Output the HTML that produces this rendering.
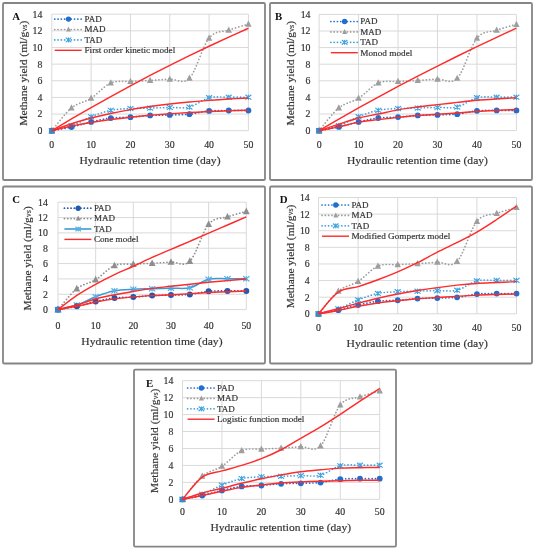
<!DOCTYPE html>
<html><head><meta charset="utf-8"><style>
html,body{margin:0;padding:0;background:#fff;}
svg{display:block;filter:blur(0.35px);}
text{font-family:"Liberation Serif",serif;fill:#333333;stroke:#333;stroke-width:0.18px;}
.tk{font-size:9.8px;}
.ttl{font-size:11.4px;}
.sub{font-size:5.6px;}
.lg{font-size:9.0px;}
.let{font-size:10.8px;font-weight:bold;fill:#111;stroke:none;}
</style></head><body>
<svg width="535" height="550" viewBox="0 0 535 550">
<rect width="535" height="550" fill="#fff"/>
<rect x="3.0" y="3.0" width="262" height="177" rx="1.3" fill="#fff" stroke="#858585" stroke-width="1.8"/>
<line x1="51.80" y1="130.70" x2="248.40" y2="130.70" stroke="#d9d9d9" stroke-width="1"/>
<line x1="51.80" y1="114.06" x2="248.40" y2="114.06" stroke="#d9d9d9" stroke-width="1"/>
<line x1="51.80" y1="97.41" x2="248.40" y2="97.41" stroke="#d9d9d9" stroke-width="1"/>
<line x1="51.80" y1="80.77" x2="248.40" y2="80.77" stroke="#d9d9d9" stroke-width="1"/>
<line x1="51.80" y1="64.13" x2="248.40" y2="64.13" stroke="#d9d9d9" stroke-width="1"/>
<line x1="51.80" y1="47.49" x2="248.40" y2="47.49" stroke="#d9d9d9" stroke-width="1"/>
<line x1="51.80" y1="30.84" x2="248.40" y2="30.84" stroke="#d9d9d9" stroke-width="1"/>
<line x1="51.80" y1="14.20" x2="248.40" y2="14.20" stroke="#d9d9d9" stroke-width="1"/>
<line x1="51.80" y1="14.20" x2="51.80" y2="130.70" stroke="#d9d9d9" stroke-width="1"/>
<line x1="91.12" y1="14.20" x2="91.12" y2="130.70" stroke="#d9d9d9" stroke-width="1"/>
<line x1="130.44" y1="14.20" x2="130.44" y2="130.70" stroke="#d9d9d9" stroke-width="1"/>
<line x1="169.76" y1="14.20" x2="169.76" y2="130.70" stroke="#d9d9d9" stroke-width="1"/>
<line x1="209.08" y1="14.20" x2="209.08" y2="130.70" stroke="#d9d9d9" stroke-width="1"/>
<line x1="248.40" y1="14.20" x2="248.40" y2="130.70" stroke="#d9d9d9" stroke-width="1"/>
<text x="42.30" y="134.10" class="tk" text-anchor="end">0</text>
<text x="42.30" y="117.46" class="tk" text-anchor="end">2</text>
<text x="42.30" y="100.81" class="tk" text-anchor="end">4</text>
<text x="42.30" y="84.17" class="tk" text-anchor="end">6</text>
<text x="42.30" y="67.53" class="tk" text-anchor="end">8</text>
<text x="42.30" y="50.89" class="tk" text-anchor="end">10</text>
<text x="42.30" y="34.24" class="tk" text-anchor="end">12</text>
<text x="42.30" y="17.60" class="tk" text-anchor="end">14</text>
<text x="51.80" y="147.70" class="tk" text-anchor="middle">0</text>
<text x="91.12" y="147.70" class="tk" text-anchor="middle">10</text>
<text x="130.44" y="147.70" class="tk" text-anchor="middle">20</text>
<text x="169.76" y="147.70" class="tk" text-anchor="middle">30</text>
<text x="209.08" y="147.70" class="tk" text-anchor="middle">40</text>
<text x="248.40" y="147.70" class="tk" text-anchor="middle">50</text>
<text x="79.50" y="164.40" class="ttl" textLength="141.0" lengthAdjust="spacingAndGlyphs">Hydraulic retention time (day)</text>
<text transform="translate(27.10,125.70) rotate(-90)" class="ttl" textLength="105.0" lengthAdjust="spacingAndGlyphs">Methane yield (ml/g<tspan class="sub" dy="-0.5">VS</tspan><tspan dy="0.5">)</tspan></text>
<text x="12.30" y="19.70" class="let">A</text>
<line x1="54.70" y1="19.10" x2="81.70" y2="19.10" stroke="#1f6fd0" stroke-width="1.7" stroke-linecap="round" stroke-dasharray="0.1 3.2"/>
<circle cx="68.50" cy="19.10" r="2.70" fill="#1f6fd0"/>
<text x="84.50" y="21.90" class="lg">PAD</text>
<line x1="54.70" y1="29.50" x2="81.70" y2="29.50" stroke="#9e9e9e" stroke-width="1.7" stroke-linecap="round" stroke-dasharray="0.1 3.2"/>
<path d="M68.50,26.62 L71.00,31.50 L66.00,31.50 Z" fill="#9e9e9e"/>
<text x="84.50" y="32.30" class="lg">MAD</text>
<line x1="54.70" y1="39.90" x2="81.70" y2="39.90" stroke="#3fa3e0" stroke-width="1.7" stroke-linecap="round" stroke-dasharray="0.1 3.2"/>
<path d="M66.08,37.91 L70.92,41.90 M66.08,41.90 L70.92,37.91 M68.50,37.91 L68.50,41.90" stroke="#3fa3e0" stroke-width="1.15" fill="none" stroke-linecap="round"/>
<text x="84.50" y="42.70" class="lg">TAD</text>
<line x1="54.70" y1="50.30" x2="81.70" y2="50.30" stroke="#ff2a2a" stroke-width="1.4"/>
<text x="84.50" y="53.10" class="lg" textLength="90.7" lengthAdjust="spacingAndGlyphs">First order kinetic model</text>
<path d="M51.80,130.70 C55.08,126.91 64.91,113.39 71.46,107.98 C78.01,102.57 84.57,102.42 91.12,98.25 C97.67,94.07 104.23,85.74 110.78,82.94 C117.33,80.13 123.89,81.84 130.44,81.44 C136.99,81.03 143.55,80.91 150.10,80.52 C156.65,80.13 163.21,79.48 169.76,79.11 C176.31,78.73 182.87,85.11 189.42,78.27 C195.97,71.44 202.53,46.11 209.08,38.08 C215.63,30.05 222.19,32.41 228.74,30.09 C235.29,27.78 245.12,25.17 248.40,24.19" fill="none" stroke="#9e9e9e" stroke-width="1.7" stroke-linecap="round" stroke-dasharray="0.1 3.2"/>
<path d="M51.80,127.02 L55.00,133.26 L48.60,133.26 Z" fill="#9e9e9e"/>
<path d="M71.46,104.30 L74.66,110.54 L68.26,110.54 Z" fill="#9e9e9e"/>
<path d="M91.12,94.57 L94.32,100.81 L87.92,100.81 Z" fill="#9e9e9e"/>
<path d="M110.78,79.25 L113.98,85.50 L107.58,85.50 Z" fill="#9e9e9e"/>
<path d="M130.44,77.76 L133.64,84.00 L127.24,84.00 Z" fill="#9e9e9e"/>
<path d="M150.10,76.84 L153.30,83.08 L146.90,83.08 Z" fill="#9e9e9e"/>
<path d="M169.76,75.43 L172.96,81.67 L166.56,81.67 Z" fill="#9e9e9e"/>
<path d="M189.42,74.59 L192.62,80.83 L186.22,80.83 Z" fill="#9e9e9e"/>
<path d="M209.08,34.40 L212.28,40.64 L205.88,40.64 Z" fill="#9e9e9e"/>
<path d="M228.74,26.41 L231.94,32.65 L225.54,32.65 Z" fill="#9e9e9e"/>
<path d="M248.40,20.51 L251.60,26.75 L245.20,26.75 Z" fill="#9e9e9e"/>
<path d="M51.80,130.70 C55.08,129.87 64.91,128.02 71.46,125.71 C78.01,123.39 84.57,119.37 91.12,116.80 C97.67,114.24 104.23,111.69 110.78,110.31 C117.33,108.94 123.89,108.94 130.44,108.56 C136.99,108.19 143.55,108.25 150.10,108.07 C156.65,107.89 163.21,107.65 169.76,107.48 C176.31,107.32 182.87,108.69 189.42,107.07 C195.97,105.44 202.53,99.38 209.08,97.75 C215.63,96.11 222.19,97.33 228.74,97.25 C235.29,97.16 245.12,97.25 248.40,97.25" fill="none" stroke="#3fa3e0" stroke-width="1.7" stroke-linecap="round" stroke-dasharray="0.1 3.2"/>
<path d="M49.16,128.51 L54.44,132.88 M49.16,132.88 L54.44,128.51 M51.80,128.51 L51.80,132.88" stroke="#3fa3e0" stroke-width="1.15" fill="none" stroke-linecap="round"/>
<path d="M68.82,123.52 L74.11,127.89 M68.82,127.89 L74.11,123.52 M71.46,123.52 L71.46,127.89" stroke="#3fa3e0" stroke-width="1.15" fill="none" stroke-linecap="round"/>
<path d="M88.48,114.62 L93.77,118.99 M88.48,118.99 L93.77,114.62 M91.12,114.62 L91.12,118.99" stroke="#3fa3e0" stroke-width="1.15" fill="none" stroke-linecap="round"/>
<path d="M108.14,108.13 L113.42,112.50 M108.14,112.50 L113.42,108.13 M110.78,108.13 L110.78,112.50" stroke="#3fa3e0" stroke-width="1.15" fill="none" stroke-linecap="round"/>
<path d="M127.80,106.38 L133.09,110.75 M127.80,110.75 L133.09,106.38 M130.44,106.38 L130.44,110.75" stroke="#3fa3e0" stroke-width="1.15" fill="none" stroke-linecap="round"/>
<path d="M147.46,105.88 L152.75,110.25 M147.46,110.25 L152.75,105.88 M150.10,105.88 L150.10,110.25" stroke="#3fa3e0" stroke-width="1.15" fill="none" stroke-linecap="round"/>
<path d="M167.12,105.30 L172.41,109.67 M167.12,109.67 L172.41,105.30 M169.76,105.30 L169.76,109.67" stroke="#3fa3e0" stroke-width="1.15" fill="none" stroke-linecap="round"/>
<path d="M186.78,104.88 L192.07,109.25 M186.78,109.25 L192.07,104.88 M189.42,104.88 L189.42,109.25" stroke="#3fa3e0" stroke-width="1.15" fill="none" stroke-linecap="round"/>
<path d="M206.44,95.56 L211.73,99.93 M206.44,99.93 L211.73,95.56 M209.08,95.56 L209.08,99.93" stroke="#3fa3e0" stroke-width="1.15" fill="none" stroke-linecap="round"/>
<path d="M226.09,95.06 L231.39,99.43 M226.09,99.43 L231.39,95.06 M228.74,95.06 L228.74,99.43" stroke="#3fa3e0" stroke-width="1.15" fill="none" stroke-linecap="round"/>
<path d="M245.76,95.06 L251.05,99.43 M245.76,99.43 L251.05,95.06 M248.40,95.06 L248.40,99.43" stroke="#3fa3e0" stroke-width="1.15" fill="none" stroke-linecap="round"/>
<path d="M51.80,130.70 C55.08,130.09 64.91,128.49 71.46,127.04 C78.01,125.58 84.57,123.46 91.12,121.96 C97.67,120.46 104.23,118.86 110.78,118.05 C117.33,117.25 123.89,117.57 130.44,117.14 C136.99,116.71 143.55,115.83 150.10,115.47 C156.65,115.11 163.21,115.18 169.76,114.97 C176.31,114.76 182.87,114.90 189.42,114.22 C195.97,113.54 202.53,111.52 209.08,110.89 C215.63,110.27 222.19,110.55 228.74,110.48 C235.29,110.41 245.12,110.48 248.40,110.48" fill="none" stroke="#1f6fd0" stroke-width="1.7" stroke-linecap="round" stroke-dasharray="0.1 3.2"/>
<circle cx="51.80" cy="130.70" r="2.90" fill="#1f6fd0"/>
<circle cx="71.46" cy="127.04" r="2.90" fill="#1f6fd0"/>
<circle cx="91.12" cy="121.96" r="2.90" fill="#1f6fd0"/>
<circle cx="110.78" cy="118.05" r="2.90" fill="#1f6fd0"/>
<circle cx="130.44" cy="117.14" r="2.90" fill="#1f6fd0"/>
<circle cx="150.10" cy="115.47" r="2.90" fill="#1f6fd0"/>
<circle cx="169.76" cy="114.97" r="2.90" fill="#1f6fd0"/>
<circle cx="189.42" cy="114.22" r="2.90" fill="#1f6fd0"/>
<circle cx="209.08" cy="110.89" r="2.90" fill="#1f6fd0"/>
<circle cx="228.74" cy="110.48" r="2.90" fill="#1f6fd0"/>
<circle cx="248.40" cy="110.48" r="2.90" fill="#1f6fd0"/>
<rect x="49.00" y="128.30" width="5.6" height="5.4" fill="#3d88c8"/>
<path d="M51.80,130.70 C55.08,128.74 64.91,122.80 71.46,118.94 C78.01,115.08 84.57,111.29 91.12,107.55 C97.67,103.81 104.23,100.13 110.78,96.51 C117.33,92.88 123.89,89.32 130.44,85.81 C136.99,82.30 143.55,78.85 150.10,75.44 C156.65,72.04 163.21,68.70 169.76,65.40 C176.31,62.11 182.87,58.86 189.42,55.67 C195.97,52.48 202.53,49.34 209.08,46.24 C215.63,43.15 222.19,40.10 228.74,37.11 C235.29,34.11 245.12,29.73 248.40,28.25" fill="none" stroke="#ff2a2a" stroke-width="1.45"/>
<path d="M51.80,130.70 C55.08,129.54 64.91,125.84 71.46,123.73 C78.01,121.62 84.57,119.77 91.12,118.05 C97.67,116.33 104.23,114.82 110.78,113.42 C117.33,112.02 123.89,110.79 130.44,109.65 C136.99,108.51 143.55,107.51 150.10,106.58 C156.65,105.65 163.21,104.84 169.76,104.08 C176.31,103.32 182.87,102.66 189.42,102.04 C195.97,101.43 202.53,100.89 209.08,100.38 C215.63,99.88 222.19,99.44 228.74,99.03 C235.29,98.62 245.12,98.11 248.40,97.93" fill="none" stroke="#ff2a2a" stroke-width="1.45"/>
<path d="M51.80,130.70 C55.08,129.94 64.91,127.52 71.46,126.16 C78.01,124.79 84.57,123.61 91.12,122.51 C97.67,121.41 104.23,120.46 110.78,119.58 C117.33,118.70 123.89,117.93 130.44,117.22 C136.99,116.51 143.55,115.89 150.10,115.32 C156.65,114.76 163.21,114.26 169.76,113.80 C176.31,113.34 182.87,112.95 189.42,112.58 C195.97,112.21 202.53,111.89 209.08,111.59 C215.63,111.30 222.19,111.04 228.74,110.80 C235.29,110.57 245.12,110.27 248.40,110.17" fill="none" stroke="#ff2a2a" stroke-width="1.45"/>
<rect x="270.0" y="3.0" width="262" height="177" rx="1.3" fill="#fff" stroke="#858585" stroke-width="1.8"/>
<line x1="319.10" y1="130.60" x2="516.40" y2="130.60" stroke="#d9d9d9" stroke-width="1"/>
<line x1="319.10" y1="114.00" x2="516.40" y2="114.00" stroke="#d9d9d9" stroke-width="1"/>
<line x1="319.10" y1="97.40" x2="516.40" y2="97.40" stroke="#d9d9d9" stroke-width="1"/>
<line x1="319.10" y1="80.80" x2="516.40" y2="80.80" stroke="#d9d9d9" stroke-width="1"/>
<line x1="319.10" y1="64.20" x2="516.40" y2="64.20" stroke="#d9d9d9" stroke-width="1"/>
<line x1="319.10" y1="47.60" x2="516.40" y2="47.60" stroke="#d9d9d9" stroke-width="1"/>
<line x1="319.10" y1="31.00" x2="516.40" y2="31.00" stroke="#d9d9d9" stroke-width="1"/>
<line x1="319.10" y1="14.40" x2="516.40" y2="14.40" stroke="#d9d9d9" stroke-width="1"/>
<line x1="319.10" y1="14.40" x2="319.10" y2="130.60" stroke="#d9d9d9" stroke-width="1"/>
<line x1="358.56" y1="14.40" x2="358.56" y2="130.60" stroke="#d9d9d9" stroke-width="1"/>
<line x1="398.02" y1="14.40" x2="398.02" y2="130.60" stroke="#d9d9d9" stroke-width="1"/>
<line x1="437.48" y1="14.40" x2="437.48" y2="130.60" stroke="#d9d9d9" stroke-width="1"/>
<line x1="476.94" y1="14.40" x2="476.94" y2="130.60" stroke="#d9d9d9" stroke-width="1"/>
<line x1="516.40" y1="14.40" x2="516.40" y2="130.60" stroke="#d9d9d9" stroke-width="1"/>
<text x="310.50" y="134.00" class="tk" text-anchor="end">0</text>
<text x="310.50" y="117.40" class="tk" text-anchor="end">2</text>
<text x="310.50" y="100.80" class="tk" text-anchor="end">4</text>
<text x="310.50" y="84.20" class="tk" text-anchor="end">6</text>
<text x="310.50" y="67.60" class="tk" text-anchor="end">8</text>
<text x="310.50" y="51.00" class="tk" text-anchor="end">10</text>
<text x="310.50" y="34.40" class="tk" text-anchor="end">12</text>
<text x="310.50" y="17.80" class="tk" text-anchor="end">14</text>
<text x="319.10" y="147.50" class="tk" text-anchor="middle">0</text>
<text x="358.56" y="147.50" class="tk" text-anchor="middle">10</text>
<text x="398.02" y="147.50" class="tk" text-anchor="middle">20</text>
<text x="437.48" y="147.50" class="tk" text-anchor="middle">30</text>
<text x="476.94" y="147.50" class="tk" text-anchor="middle">40</text>
<text x="516.40" y="147.50" class="tk" text-anchor="middle">50</text>
<text x="347.00" y="164.40" class="ttl" textLength="140.9" lengthAdjust="spacingAndGlyphs">Hydraulic retention time (day)</text>
<text transform="translate(294.20,125.40) rotate(-90)" class="ttl" textLength="104.4" lengthAdjust="spacingAndGlyphs">Methane yield (ml/g<tspan class="sub" dy="-0.5">VS</tspan><tspan dy="0.5">)</tspan></text>
<text x="275.00" y="19.80" class="let">B</text>
<line x1="330.80" y1="21.50" x2="357.80" y2="21.50" stroke="#1f6fd0" stroke-width="1.7" stroke-linecap="round" stroke-dasharray="0.1 3.2"/>
<circle cx="344.60" cy="21.50" r="2.70" fill="#1f6fd0"/>
<text x="360.30" y="24.30" class="lg">PAD</text>
<line x1="330.80" y1="31.90" x2="357.80" y2="31.90" stroke="#9e9e9e" stroke-width="1.7" stroke-linecap="round" stroke-dasharray="0.1 3.2"/>
<path d="M344.60,29.02 L347.10,33.90 L342.10,33.90 Z" fill="#9e9e9e"/>
<text x="360.30" y="34.70" class="lg">MAD</text>
<line x1="330.80" y1="42.30" x2="357.80" y2="42.30" stroke="#3fa3e0" stroke-width="1.7" stroke-linecap="round" stroke-dasharray="0.1 3.2"/>
<path d="M342.19,40.30 L347.02,44.29 M342.19,44.29 L347.02,40.30 M344.60,40.30 L344.60,44.29" stroke="#3fa3e0" stroke-width="1.15" fill="none" stroke-linecap="round"/>
<text x="360.30" y="45.10" class="lg">TAD</text>
<line x1="330.80" y1="52.70" x2="357.80" y2="52.70" stroke="#ff2a2a" stroke-width="1.4"/>
<text x="360.30" y="55.50" class="lg" textLength="52.0" lengthAdjust="spacingAndGlyphs">Monod model</text>
<path d="M319.10,130.60 C322.39,126.82 332.25,113.34 338.83,107.94 C345.41,102.55 351.98,102.39 358.56,98.23 C365.14,94.07 371.71,85.75 378.29,82.96 C384.87,80.16 391.44,81.87 398.02,81.46 C404.60,81.06 411.17,80.94 417.75,80.55 C424.33,80.16 430.90,79.51 437.48,79.14 C444.06,78.77 450.63,85.13 457.21,78.31 C463.79,71.49 470.36,46.23 476.94,38.22 C483.52,30.21 490.09,32.56 496.67,30.25 C503.25,27.94 513.11,25.34 516.40,24.36" fill="none" stroke="#9e9e9e" stroke-width="1.7" stroke-linecap="round" stroke-dasharray="0.1 3.2"/>
<path d="M319.10,126.92 L322.30,133.16 L315.90,133.16 Z" fill="#9e9e9e"/>
<path d="M338.83,104.26 L342.03,110.50 L335.63,110.50 Z" fill="#9e9e9e"/>
<path d="M358.56,94.55 L361.76,100.79 L355.36,100.79 Z" fill="#9e9e9e"/>
<path d="M378.29,79.28 L381.49,85.52 L375.09,85.52 Z" fill="#9e9e9e"/>
<path d="M398.02,77.78 L401.22,84.02 L394.82,84.02 Z" fill="#9e9e9e"/>
<path d="M417.75,76.87 L420.95,83.11 L414.55,83.11 Z" fill="#9e9e9e"/>
<path d="M437.48,75.46 L440.68,81.70 L434.28,81.70 Z" fill="#9e9e9e"/>
<path d="M457.21,74.63 L460.41,80.87 L454.01,80.87 Z" fill="#9e9e9e"/>
<path d="M476.94,34.54 L480.14,40.78 L473.74,40.78 Z" fill="#9e9e9e"/>
<path d="M496.67,26.57 L499.87,32.81 L493.47,32.81 Z" fill="#9e9e9e"/>
<path d="M516.40,20.68 L519.60,26.92 L513.20,26.92 Z" fill="#9e9e9e"/>
<path d="M319.10,130.60 C322.39,129.77 332.25,127.93 338.83,125.62 C345.41,123.31 351.98,119.30 358.56,116.74 C365.14,114.18 371.71,111.63 378.29,110.26 C384.87,108.90 391.44,108.90 398.02,108.52 C404.60,108.15 411.17,108.20 417.75,108.02 C424.33,107.84 430.90,107.61 437.48,107.44 C444.06,107.28 450.63,108.65 457.21,107.03 C463.79,105.41 470.36,99.36 476.94,97.73 C483.52,96.10 490.09,97.32 496.67,97.23 C503.25,97.15 513.11,97.23 516.40,97.23" fill="none" stroke="#3fa3e0" stroke-width="1.7" stroke-linecap="round" stroke-dasharray="0.1 3.2"/>
<path d="M316.46,128.41 L321.75,132.78 M316.46,132.78 L321.75,128.41 M319.10,128.41 L319.10,132.78" stroke="#3fa3e0" stroke-width="1.15" fill="none" stroke-linecap="round"/>
<path d="M336.19,123.43 L341.48,127.80 M336.19,127.80 L341.48,123.43 M338.83,123.43 L338.83,127.80" stroke="#3fa3e0" stroke-width="1.15" fill="none" stroke-linecap="round"/>
<path d="M355.92,114.55 L361.20,118.92 M355.92,118.92 L361.20,114.55 M358.56,114.55 L358.56,118.92" stroke="#3fa3e0" stroke-width="1.15" fill="none" stroke-linecap="round"/>
<path d="M375.65,108.08 L380.94,112.45 M375.65,112.45 L380.94,108.08 M378.29,108.08 L378.29,112.45" stroke="#3fa3e0" stroke-width="1.15" fill="none" stroke-linecap="round"/>
<path d="M395.38,106.34 L400.66,110.71 M395.38,110.71 L400.66,106.34 M398.02,106.34 L398.02,110.71" stroke="#3fa3e0" stroke-width="1.15" fill="none" stroke-linecap="round"/>
<path d="M415.11,105.84 L420.39,110.21 M415.11,110.21 L420.39,105.84 M417.75,105.84 L417.75,110.21" stroke="#3fa3e0" stroke-width="1.15" fill="none" stroke-linecap="round"/>
<path d="M434.84,105.26 L440.12,109.63 M434.84,109.63 L440.12,105.26 M437.48,105.26 L437.48,109.63" stroke="#3fa3e0" stroke-width="1.15" fill="none" stroke-linecap="round"/>
<path d="M454.56,104.84 L459.85,109.21 M454.56,109.21 L459.85,104.84 M457.21,104.84 L457.21,109.21" stroke="#3fa3e0" stroke-width="1.15" fill="none" stroke-linecap="round"/>
<path d="M474.30,95.55 L479.58,99.92 M474.30,99.92 L479.58,95.55 M476.94,95.55 L476.94,99.92" stroke="#3fa3e0" stroke-width="1.15" fill="none" stroke-linecap="round"/>
<path d="M494.02,95.05 L499.31,99.42 M494.02,99.42 L499.31,95.05 M496.67,95.05 L496.67,99.42" stroke="#3fa3e0" stroke-width="1.15" fill="none" stroke-linecap="round"/>
<path d="M513.75,95.05 L519.04,99.42 M513.75,99.42 L519.04,95.05 M516.40,95.05 L516.40,99.42" stroke="#3fa3e0" stroke-width="1.15" fill="none" stroke-linecap="round"/>
<path d="M319.10,130.60 C322.39,129.99 332.25,128.40 338.83,126.95 C345.41,125.50 351.98,123.38 358.56,121.88 C365.14,120.39 371.71,118.79 378.29,117.98 C384.87,117.18 391.44,117.50 398.02,117.07 C404.60,116.64 411.17,115.77 417.75,115.41 C424.33,115.05 430.90,115.12 437.48,114.91 C444.06,114.71 450.63,114.84 457.21,114.17 C463.79,113.49 470.36,111.47 476.94,110.85 C483.52,110.22 490.09,110.50 496.67,110.43 C503.25,110.36 513.11,110.43 516.40,110.43" fill="none" stroke="#1f6fd0" stroke-width="1.7" stroke-linecap="round" stroke-dasharray="0.1 3.2"/>
<circle cx="319.10" cy="130.60" r="2.90" fill="#1f6fd0"/>
<circle cx="338.83" cy="126.95" r="2.90" fill="#1f6fd0"/>
<circle cx="358.56" cy="121.88" r="2.90" fill="#1f6fd0"/>
<circle cx="378.29" cy="117.98" r="2.90" fill="#1f6fd0"/>
<circle cx="398.02" cy="117.07" r="2.90" fill="#1f6fd0"/>
<circle cx="417.75" cy="115.41" r="2.90" fill="#1f6fd0"/>
<circle cx="437.48" cy="114.91" r="2.90" fill="#1f6fd0"/>
<circle cx="457.21" cy="114.17" r="2.90" fill="#1f6fd0"/>
<circle cx="476.94" cy="110.85" r="2.90" fill="#1f6fd0"/>
<circle cx="496.67" cy="110.43" r="2.90" fill="#1f6fd0"/>
<circle cx="516.40" cy="110.43" r="2.90" fill="#1f6fd0"/>
<rect x="316.30" y="128.20" width="5.6" height="5.4" fill="#3d88c8"/>
<path d="M319.10,130.60 C322.39,128.69 332.25,122.89 338.83,119.11 C345.41,115.34 351.98,111.61 358.56,107.94 C365.14,104.26 371.71,100.63 378.29,97.05 C384.87,93.47 391.44,89.94 398.02,86.45 C404.60,82.96 411.17,79.52 417.75,76.12 C424.33,72.72 430.90,69.36 437.48,66.05 C444.06,62.73 450.63,59.46 457.21,56.23 C463.79,53.00 470.36,49.81 476.94,46.66 C483.52,43.50 490.09,40.39 496.67,37.32 C503.25,34.24 513.11,29.72 516.40,28.20" fill="none" stroke="#ff2a2a" stroke-width="1.45"/>
<path d="M319.10,130.60 C322.39,129.53 332.25,126.31 338.83,124.21 C345.41,122.11 351.98,119.69 358.56,117.98 C365.14,116.28 371.71,115.36 378.29,114.00 C384.87,112.64 391.44,111.03 398.02,109.85 C404.60,108.67 411.17,107.82 417.75,106.94 C424.33,106.07 430.90,105.38 437.48,104.62 C444.06,103.86 450.63,103.10 457.21,102.38 C463.79,101.66 470.36,100.89 476.94,100.31 C483.52,99.72 490.09,99.31 496.67,98.89 C503.25,98.48 513.11,97.99 516.40,97.81" fill="none" stroke="#ff2a2a" stroke-width="1.45"/>
<path d="M319.10,130.60 C322.39,129.98 332.25,128.28 338.83,126.86 C345.41,125.45 351.98,123.34 358.56,122.13 C365.14,120.93 371.71,120.43 378.29,119.64 C384.87,118.86 391.44,118.11 398.02,117.40 C404.60,116.70 411.17,115.94 417.75,115.41 C424.33,114.89 430.90,114.66 437.48,114.25 C444.06,113.83 450.63,113.38 457.21,112.92 C463.79,112.46 470.36,111.92 476.94,111.51 C483.52,111.09 490.09,110.76 496.67,110.43 C503.25,110.10 513.11,109.67 516.40,109.52" fill="none" stroke="#ff2a2a" stroke-width="1.45"/>
<rect x="3.0" y="186.5" width="262" height="177" rx="1.3" fill="#fff" stroke="#858585" stroke-width="1.8"/>
<line x1="58.00" y1="309.60" x2="246.30" y2="309.60" stroke="#d9d9d9" stroke-width="1"/>
<line x1="58.00" y1="294.26" x2="246.30" y2="294.26" stroke="#d9d9d9" stroke-width="1"/>
<line x1="58.00" y1="278.91" x2="246.30" y2="278.91" stroke="#d9d9d9" stroke-width="1"/>
<line x1="58.00" y1="263.57" x2="246.30" y2="263.57" stroke="#d9d9d9" stroke-width="1"/>
<line x1="58.00" y1="248.23" x2="246.30" y2="248.23" stroke="#d9d9d9" stroke-width="1"/>
<line x1="58.00" y1="232.89" x2="246.30" y2="232.89" stroke="#d9d9d9" stroke-width="1"/>
<line x1="58.00" y1="217.54" x2="246.30" y2="217.54" stroke="#d9d9d9" stroke-width="1"/>
<line x1="58.00" y1="202.20" x2="246.30" y2="202.20" stroke="#d9d9d9" stroke-width="1"/>
<line x1="58.00" y1="202.20" x2="58.00" y2="309.60" stroke="#d9d9d9" stroke-width="1"/>
<line x1="95.66" y1="202.20" x2="95.66" y2="309.60" stroke="#d9d9d9" stroke-width="1"/>
<line x1="133.32" y1="202.20" x2="133.32" y2="309.60" stroke="#d9d9d9" stroke-width="1"/>
<line x1="170.98" y1="202.20" x2="170.98" y2="309.60" stroke="#d9d9d9" stroke-width="1"/>
<line x1="208.64" y1="202.20" x2="208.64" y2="309.60" stroke="#d9d9d9" stroke-width="1"/>
<line x1="246.30" y1="202.20" x2="246.30" y2="309.60" stroke="#d9d9d9" stroke-width="1"/>
<text x="47.80" y="313.00" class="tk" text-anchor="end">0</text>
<text x="47.80" y="297.66" class="tk" text-anchor="end">2</text>
<text x="47.80" y="282.31" class="tk" text-anchor="end">4</text>
<text x="47.80" y="266.97" class="tk" text-anchor="end">6</text>
<text x="47.80" y="251.63" class="tk" text-anchor="end">8</text>
<text x="47.80" y="236.29" class="tk" text-anchor="end">10</text>
<text x="47.80" y="220.94" class="tk" text-anchor="end">12</text>
<text x="47.80" y="205.60" class="tk" text-anchor="end">14</text>
<text x="58.00" y="328.50" class="tk" text-anchor="middle">0</text>
<text x="95.66" y="328.50" class="tk" text-anchor="middle">10</text>
<text x="133.32" y="328.50" class="tk" text-anchor="middle">20</text>
<text x="170.98" y="328.50" class="tk" text-anchor="middle">30</text>
<text x="208.64" y="328.50" class="tk" text-anchor="middle">40</text>
<text x="246.30" y="328.50" class="tk" text-anchor="middle">50</text>
<text x="81.30" y="345.30" class="ttl" textLength="141.2" lengthAdjust="spacingAndGlyphs">Hydraulic retention time (day)</text>
<text transform="translate(31.00,310.50) rotate(-90)" class="ttl" textLength="104.3" lengthAdjust="spacingAndGlyphs">Methane yield (ml/g<tspan class="sub" dy="-0.5">VS</tspan><tspan dy="0.5">)</tspan></text>
<text x="12.30" y="203.20" class="let">C</text>
<line x1="64.40" y1="208.20" x2="91.40" y2="208.20" stroke="#1f5aae" stroke-width="1.7" stroke-linecap="round" stroke-dasharray="0.1 3.2"/>
<circle cx="78.20" cy="208.20" r="2.70" fill="#1f5aae"/>
<text x="93.90" y="211.00" class="lg">PAD</text>
<line x1="64.40" y1="218.60" x2="91.40" y2="218.60" stroke="#8e8e8e" stroke-width="1.7" stroke-linecap="round" stroke-dasharray="0.1 3.2"/>
<path d="M78.20,215.72 L80.70,220.60 L75.70,220.60 Z" fill="#8e8e8e"/>
<text x="93.90" y="221.40" class="lg">MAD</text>
<line x1="64.40" y1="229.00" x2="91.40" y2="229.00" stroke="#3b9ad4" stroke-width="1.6"/>
<path d="M75.78,227.00 L80.62,231.00 M75.78,231.00 L80.62,227.00 M78.20,227.00 L78.20,231.00" stroke="#55b0e6" stroke-width="1.15" fill="none" stroke-linecap="round"/>
<text x="93.90" y="231.80" class="lg">TAD</text>
<line x1="64.40" y1="239.40" x2="91.40" y2="239.40" stroke="#ff2a2a" stroke-width="1.4"/>
<text x="93.90" y="242.20" class="lg" textLength="44.6" lengthAdjust="spacingAndGlyphs">Cone model</text>
<path d="M58.00,309.60 C61.14,306.11 70.55,293.64 76.83,288.66 C83.11,283.67 89.38,283.53 95.66,279.68 C101.94,275.83 108.21,268.15 114.49,265.57 C120.77,262.98 127.04,264.56 133.32,264.19 C139.60,263.81 145.87,263.70 152.15,263.34 C158.43,262.98 164.70,262.38 170.98,262.04 C177.26,261.69 183.53,267.57 189.81,261.27 C196.09,254.97 202.36,231.62 208.64,224.22 C214.92,216.81 221.19,218.99 227.47,216.85 C233.75,214.72 243.16,212.31 246.30,211.41" fill="none" stroke="#8e8e8e" stroke-width="1.7" stroke-linecap="round" stroke-dasharray="0.1 3.2"/>
<path d="M58.00,305.69 L61.40,312.32 L54.60,312.32 Z" fill="#8e8e8e"/>
<path d="M76.83,284.75 L80.23,291.38 L73.43,291.38 Z" fill="#8e8e8e"/>
<path d="M95.66,275.77 L99.06,282.40 L92.26,282.40 Z" fill="#8e8e8e"/>
<path d="M114.49,261.66 L117.89,268.29 L111.09,268.29 Z" fill="#8e8e8e"/>
<path d="M133.32,260.28 L136.72,266.91 L129.92,266.91 Z" fill="#8e8e8e"/>
<path d="M152.15,259.43 L155.55,266.06 L148.75,266.06 Z" fill="#8e8e8e"/>
<path d="M170.98,258.13 L174.38,264.76 L167.58,264.76 Z" fill="#8e8e8e"/>
<path d="M189.81,257.36 L193.21,263.99 L186.41,263.99 Z" fill="#8e8e8e"/>
<path d="M208.64,220.31 L212.04,226.94 L205.24,226.94 Z" fill="#8e8e8e"/>
<path d="M227.47,212.94 L230.87,219.57 L224.07,219.57 Z" fill="#8e8e8e"/>
<path d="M246.30,207.50 L249.70,214.13 L242.90,214.13 Z" fill="#8e8e8e"/>
<path d="M58.00,309.60 C61.14,308.83 70.55,307.13 76.83,305.00 C83.11,302.86 89.38,299.15 95.66,296.79 C101.94,294.42 108.21,292.07 114.49,290.81 C120.77,289.54 127.04,289.54 133.32,289.19 C139.60,288.85 145.87,288.90 152.15,288.73 C158.43,288.57 164.70,288.35 170.98,288.20 C177.26,288.04 183.53,289.31 189.81,287.81 C196.09,286.32 202.36,280.73 208.64,279.22 C214.92,277.71 221.19,278.84 227.47,278.76 C233.75,278.68 243.16,278.76 246.30,278.76" fill="none" stroke="#3b9ad4" stroke-width="1.5"/>
<path d="M55.24,307.32 L60.76,311.88 M55.24,311.88 L60.76,307.32 M58.00,307.32 L58.00,311.88" stroke="#55b0e6" stroke-width="1.15" fill="none" stroke-linecap="round"/>
<path d="M74.07,302.72 L79.59,307.28 M74.07,307.28 L79.59,302.72 M76.83,302.72 L76.83,307.28" stroke="#55b0e6" stroke-width="1.15" fill="none" stroke-linecap="round"/>
<path d="M92.90,294.51 L98.42,299.07 M92.90,299.07 L98.42,294.51 M95.66,294.51 L95.66,299.07" stroke="#55b0e6" stroke-width="1.15" fill="none" stroke-linecap="round"/>
<path d="M111.73,288.53 L117.25,293.08 M111.73,293.08 L117.25,288.53 M114.49,288.53 L114.49,293.08" stroke="#55b0e6" stroke-width="1.15" fill="none" stroke-linecap="round"/>
<path d="M130.56,286.91 L136.08,291.47 M130.56,291.47 L136.08,286.91 M133.32,286.91 L133.32,291.47" stroke="#55b0e6" stroke-width="1.15" fill="none" stroke-linecap="round"/>
<path d="M149.39,286.45 L154.91,291.01 M149.39,291.01 L154.91,286.45 M152.15,286.45 L152.15,291.01" stroke="#55b0e6" stroke-width="1.15" fill="none" stroke-linecap="round"/>
<path d="M168.22,285.92 L173.74,290.48 M168.22,290.48 L173.74,285.92 M170.98,285.92 L170.98,290.48" stroke="#55b0e6" stroke-width="1.15" fill="none" stroke-linecap="round"/>
<path d="M187.05,285.53 L192.57,290.09 M187.05,290.09 L192.57,285.53 M189.81,285.53 L189.81,290.09" stroke="#55b0e6" stroke-width="1.15" fill="none" stroke-linecap="round"/>
<path d="M205.88,276.94 L211.40,281.50 M205.88,281.50 L211.40,276.94 M208.64,276.94 L208.64,281.50" stroke="#55b0e6" stroke-width="1.15" fill="none" stroke-linecap="round"/>
<path d="M224.71,276.48 L230.23,281.04 M224.71,281.04 L230.23,276.48 M227.47,276.48 L227.47,281.04" stroke="#55b0e6" stroke-width="1.15" fill="none" stroke-linecap="round"/>
<path d="M243.54,276.48 L249.06,281.04 M243.54,281.04 L249.06,276.48 M246.30,276.48 L246.30,281.04" stroke="#55b0e6" stroke-width="1.15" fill="none" stroke-linecap="round"/>
<path d="M58.00,309.60 C61.14,309.04 70.55,307.57 76.83,306.22 C83.11,304.88 89.38,302.93 95.66,301.55 C101.94,300.16 108.21,298.68 114.49,297.94 C120.77,297.20 127.04,297.49 133.32,297.10 C139.60,296.70 145.87,295.89 152.15,295.56 C158.43,295.23 164.70,295.29 170.98,295.10 C177.26,294.91 183.53,295.04 189.81,294.41 C196.09,293.78 202.36,291.92 208.64,291.34 C214.92,290.77 221.19,291.02 227.47,290.96 C233.75,290.89 243.16,290.96 246.30,290.96" fill="none" stroke="#1f5aae" stroke-width="1.7" stroke-linecap="round" stroke-dasharray="0.1 3.2"/>
<circle cx="58.00" cy="309.60" r="3.00" fill="#1f5aae"/>
<circle cx="76.83" cy="306.22" r="3.00" fill="#1f5aae"/>
<circle cx="95.66" cy="301.55" r="3.00" fill="#1f5aae"/>
<circle cx="114.49" cy="297.94" r="3.00" fill="#1f5aae"/>
<circle cx="133.32" cy="297.10" r="3.00" fill="#1f5aae"/>
<circle cx="152.15" cy="295.56" r="3.00" fill="#1f5aae"/>
<circle cx="170.98" cy="295.10" r="3.00" fill="#1f5aae"/>
<circle cx="189.81" cy="294.41" r="3.00" fill="#1f5aae"/>
<circle cx="208.64" cy="291.34" r="3.00" fill="#1f5aae"/>
<circle cx="227.47" cy="290.96" r="3.00" fill="#1f5aae"/>
<circle cx="246.30" cy="290.96" r="3.00" fill="#1f5aae"/>
<rect x="55.20" y="307.20" width="5.6" height="5.4" fill="#3d88c8"/>
<path d="M58.00,309.60 C61.14,307.23 70.55,299.63 76.83,295.41 C83.11,291.19 89.38,287.74 95.66,284.28 C101.94,280.83 108.21,277.70 114.49,274.69 C120.77,271.69 127.04,269.13 133.32,266.26 C139.60,263.38 145.87,260.25 152.15,257.43 C158.43,254.62 164.70,252.06 170.98,249.38 C177.26,246.69 183.53,244.02 189.81,241.32 C196.09,238.63 202.36,235.92 208.64,233.19 C214.92,230.47 221.19,227.71 227.47,224.98 C233.75,222.26 243.16,218.21 246.30,216.85" fill="none" stroke="#ff2a2a" stroke-width="1.45"/>
<path d="M58.00,309.60 C61.14,308.85 70.55,306.85 76.83,305.07 C83.11,303.30 89.38,300.65 95.66,298.94 C101.94,297.22 108.21,296.05 114.49,294.79 C120.77,293.54 127.04,292.49 133.32,291.42 C139.60,290.34 145.87,289.21 152.15,288.35 C158.43,287.49 164.70,286.96 170.98,286.28 C177.26,285.60 183.53,284.95 189.81,284.28 C196.09,283.62 202.36,282.90 208.64,282.29 C214.92,281.68 221.19,281.14 227.47,280.60 C233.75,280.07 243.16,279.32 246.30,279.07" fill="none" stroke="#ff2a2a" stroke-width="1.45"/>
<path d="M58.00,309.60 C61.14,309.06 70.55,307.66 76.83,306.38 C83.11,305.10 89.38,303.18 95.66,301.93 C101.94,300.68 108.21,299.70 114.49,298.86 C120.77,298.02 127.04,297.40 133.32,296.87 C139.60,296.33 145.87,295.98 152.15,295.64 C158.43,295.29 164.70,295.13 170.98,294.79 C177.26,294.46 183.53,294.01 189.81,293.64 C196.09,293.27 202.36,292.89 208.64,292.57 C214.92,292.25 221.19,291.98 227.47,291.73 C233.75,291.47 243.16,291.15 246.30,291.04" fill="none" stroke="#ff2a2a" stroke-width="1.45"/>
<rect x="270.0" y="186.5" width="262" height="177" rx="1.3" fill="#fff" stroke="#858585" stroke-width="1.8"/>
<line x1="318.50" y1="313.80" x2="516.50" y2="313.80" stroke="#d9d9d9" stroke-width="1"/>
<line x1="318.50" y1="297.19" x2="516.50" y2="297.19" stroke="#d9d9d9" stroke-width="1"/>
<line x1="318.50" y1="280.57" x2="516.50" y2="280.57" stroke="#d9d9d9" stroke-width="1"/>
<line x1="318.50" y1="263.96" x2="516.50" y2="263.96" stroke="#d9d9d9" stroke-width="1"/>
<line x1="318.50" y1="247.34" x2="516.50" y2="247.34" stroke="#d9d9d9" stroke-width="1"/>
<line x1="318.50" y1="230.73" x2="516.50" y2="230.73" stroke="#d9d9d9" stroke-width="1"/>
<line x1="318.50" y1="214.11" x2="516.50" y2="214.11" stroke="#d9d9d9" stroke-width="1"/>
<line x1="318.50" y1="197.50" x2="516.50" y2="197.50" stroke="#d9d9d9" stroke-width="1"/>
<line x1="318.50" y1="197.50" x2="318.50" y2="313.80" stroke="#d9d9d9" stroke-width="1"/>
<line x1="358.10" y1="197.50" x2="358.10" y2="313.80" stroke="#d9d9d9" stroke-width="1"/>
<line x1="397.70" y1="197.50" x2="397.70" y2="313.80" stroke="#d9d9d9" stroke-width="1"/>
<line x1="437.30" y1="197.50" x2="437.30" y2="313.80" stroke="#d9d9d9" stroke-width="1"/>
<line x1="476.90" y1="197.50" x2="476.90" y2="313.80" stroke="#d9d9d9" stroke-width="1"/>
<line x1="516.50" y1="197.50" x2="516.50" y2="313.80" stroke="#d9d9d9" stroke-width="1"/>
<text x="309.70" y="317.20" class="tk" text-anchor="end">0</text>
<text x="309.70" y="300.59" class="tk" text-anchor="end">2</text>
<text x="309.70" y="283.97" class="tk" text-anchor="end">4</text>
<text x="309.70" y="267.36" class="tk" text-anchor="end">6</text>
<text x="309.70" y="250.74" class="tk" text-anchor="end">8</text>
<text x="309.70" y="234.13" class="tk" text-anchor="end">10</text>
<text x="309.70" y="217.51" class="tk" text-anchor="end">12</text>
<text x="309.70" y="200.90" class="tk" text-anchor="end">14</text>
<text x="318.50" y="330.60" class="tk" text-anchor="middle">0</text>
<text x="358.10" y="330.60" class="tk" text-anchor="middle">10</text>
<text x="397.70" y="330.60" class="tk" text-anchor="middle">20</text>
<text x="437.30" y="330.60" class="tk" text-anchor="middle">30</text>
<text x="476.90" y="330.60" class="tk" text-anchor="middle">40</text>
<text x="516.50" y="330.60" class="tk" text-anchor="middle">50</text>
<text x="346.50" y="347.40" class="ttl" textLength="141.4" lengthAdjust="spacingAndGlyphs">Hydraulic retention time (day)</text>
<text transform="translate(293.90,308.30) rotate(-90)" class="ttl" textLength="103.7" lengthAdjust="spacingAndGlyphs">Methane yield (ml/g<tspan class="sub" dy="-0.5">VS</tspan><tspan dy="0.5">)</tspan></text>
<text x="279.70" y="202.60" class="let">D</text>
<line x1="322.00" y1="205.00" x2="349.00" y2="205.00" stroke="#1f6fd0" stroke-width="1.7" stroke-linecap="round" stroke-dasharray="0.1 3.2"/>
<circle cx="335.80" cy="205.00" r="2.70" fill="#1f6fd0"/>
<text x="351.40" y="207.80" class="lg">PAD</text>
<line x1="322.00" y1="215.40" x2="349.00" y2="215.40" stroke="#9e9e9e" stroke-width="1.7" stroke-linecap="round" stroke-dasharray="0.1 3.2"/>
<path d="M335.80,212.53 L338.30,217.40 L333.30,217.40 Z" fill="#9e9e9e"/>
<text x="351.40" y="218.20" class="lg">MAD</text>
<line x1="322.00" y1="225.80" x2="349.00" y2="225.80" stroke="#3fa3e0" stroke-width="1.7" stroke-linecap="round" stroke-dasharray="0.1 3.2"/>
<path d="M333.38,223.81 L338.22,227.80 M333.38,227.80 L338.22,223.81 M335.80,223.81 L335.80,227.80" stroke="#3fa3e0" stroke-width="1.15" fill="none" stroke-linecap="round"/>
<text x="351.40" y="228.60" class="lg">TAD</text>
<line x1="322.00" y1="236.20" x2="349.00" y2="236.20" stroke="#ff2a2a" stroke-width="1.4"/>
<text x="351.40" y="239.00" class="lg" textLength="99.0" lengthAdjust="spacingAndGlyphs">Modified Gompertz model</text>
<path d="M318.50,313.80 C321.80,310.02 331.70,296.52 338.30,291.12 C344.90,285.72 351.50,285.57 358.10,281.40 C364.70,277.23 371.30,268.91 377.90,266.12 C384.50,263.32 391.10,265.02 397.70,264.62 C404.30,264.22 410.90,264.10 417.50,263.71 C424.10,263.32 430.70,262.67 437.30,262.30 C443.90,261.92 450.50,268.29 457.10,261.47 C463.70,254.64 470.30,229.36 476.90,221.34 C483.50,213.33 490.10,215.68 496.70,213.37 C503.30,211.05 513.20,208.45 516.50,207.47" fill="none" stroke="#9e9e9e" stroke-width="1.7" stroke-linecap="round" stroke-dasharray="0.1 3.2"/>
<path d="M318.50,310.12 L321.70,316.36 L315.30,316.36 Z" fill="#9e9e9e"/>
<path d="M338.30,287.44 L341.50,293.68 L335.10,293.68 Z" fill="#9e9e9e"/>
<path d="M358.10,277.72 L361.30,283.96 L354.90,283.96 Z" fill="#9e9e9e"/>
<path d="M377.90,262.44 L381.10,268.68 L374.70,268.68 Z" fill="#9e9e9e"/>
<path d="M397.70,260.94 L400.90,267.18 L394.50,267.18 Z" fill="#9e9e9e"/>
<path d="M417.50,260.03 L420.70,266.27 L414.30,266.27 Z" fill="#9e9e9e"/>
<path d="M437.30,258.62 L440.50,264.86 L434.10,264.86 Z" fill="#9e9e9e"/>
<path d="M457.10,257.79 L460.30,264.03 L453.90,264.03 Z" fill="#9e9e9e"/>
<path d="M476.90,217.66 L480.10,223.90 L473.70,223.90 Z" fill="#9e9e9e"/>
<path d="M496.70,209.69 L499.90,215.93 L493.50,215.93 Z" fill="#9e9e9e"/>
<path d="M516.50,203.79 L519.70,210.03 L513.30,210.03 Z" fill="#9e9e9e"/>
<path d="M318.50,313.80 C321.80,312.97 331.70,311.13 338.30,308.82 C344.90,306.50 351.50,302.49 358.10,299.93 C364.70,297.37 371.30,294.82 377.90,293.45 C384.50,292.08 391.10,292.08 397.70,291.70 C404.30,291.33 410.90,291.38 417.50,291.20 C424.10,291.02 430.70,290.79 437.30,290.62 C443.90,290.46 450.50,291.83 457.10,290.21 C463.70,288.59 470.30,282.54 476.90,280.90 C483.50,279.27 490.10,280.49 496.70,280.41 C503.30,280.32 513.20,280.41 516.50,280.41" fill="none" stroke="#3fa3e0" stroke-width="1.7" stroke-linecap="round" stroke-dasharray="0.1 3.2"/>
<path d="M315.86,311.62 L321.14,315.99 M315.86,315.99 L321.14,311.62 M318.50,311.62 L318.50,315.99" stroke="#3fa3e0" stroke-width="1.15" fill="none" stroke-linecap="round"/>
<path d="M335.66,306.63 L340.94,311.00 M335.66,311.00 L340.94,306.63 M338.30,306.63 L338.30,311.00" stroke="#3fa3e0" stroke-width="1.15" fill="none" stroke-linecap="round"/>
<path d="M355.46,297.74 L360.75,302.11 M355.46,302.11 L360.75,297.74 M358.10,297.74 L358.10,302.11" stroke="#3fa3e0" stroke-width="1.15" fill="none" stroke-linecap="round"/>
<path d="M375.25,291.26 L380.54,295.63 M375.25,295.63 L380.54,291.26 M377.90,291.26 L377.90,295.63" stroke="#3fa3e0" stroke-width="1.15" fill="none" stroke-linecap="round"/>
<path d="M395.06,289.52 L400.34,293.89 M395.06,293.89 L400.34,289.52 M397.70,289.52 L397.70,293.89" stroke="#3fa3e0" stroke-width="1.15" fill="none" stroke-linecap="round"/>
<path d="M414.86,289.02 L420.14,293.39 M414.86,293.39 L420.14,289.02 M417.50,289.02 L417.50,293.39" stroke="#3fa3e0" stroke-width="1.15" fill="none" stroke-linecap="round"/>
<path d="M434.66,288.44 L439.94,292.81 M434.66,292.81 L439.94,288.44 M437.30,288.44 L437.30,292.81" stroke="#3fa3e0" stroke-width="1.15" fill="none" stroke-linecap="round"/>
<path d="M454.46,288.02 L459.75,292.39 M454.46,292.39 L459.75,288.02 M457.10,288.02 L457.10,292.39" stroke="#3fa3e0" stroke-width="1.15" fill="none" stroke-linecap="round"/>
<path d="M474.25,278.72 L479.54,283.09 M474.25,283.09 L479.54,278.72 M476.90,278.72 L476.90,283.09" stroke="#3fa3e0" stroke-width="1.15" fill="none" stroke-linecap="round"/>
<path d="M494.06,278.22 L499.34,282.59 M494.06,282.59 L499.34,278.22 M496.70,278.22 L496.70,282.59" stroke="#3fa3e0" stroke-width="1.15" fill="none" stroke-linecap="round"/>
<path d="M513.86,278.22 L519.14,282.59 M513.86,282.59 L519.14,278.22 M516.50,278.22 L516.50,282.59" stroke="#3fa3e0" stroke-width="1.15" fill="none" stroke-linecap="round"/>
<path d="M318.50,313.80 C321.80,313.19 331.70,311.60 338.30,310.14 C344.90,308.69 351.50,306.57 358.10,305.08 C364.70,303.58 371.30,301.98 377.90,301.17 C384.50,300.37 391.10,300.69 397.70,300.26 C404.30,299.83 410.90,298.96 417.50,298.60 C424.10,298.24 430.70,298.31 437.30,298.10 C443.90,297.89 450.50,298.03 457.10,297.35 C463.70,296.67 470.30,294.65 476.90,294.03 C483.50,293.41 490.10,293.68 496.70,293.61 C503.30,293.54 513.20,293.61 516.50,293.61" fill="none" stroke="#1f6fd0" stroke-width="1.7" stroke-linecap="round" stroke-dasharray="0.1 3.2"/>
<circle cx="318.50" cy="313.80" r="2.90" fill="#1f6fd0"/>
<circle cx="338.30" cy="310.14" r="2.90" fill="#1f6fd0"/>
<circle cx="358.10" cy="305.08" r="2.90" fill="#1f6fd0"/>
<circle cx="377.90" cy="301.17" r="2.90" fill="#1f6fd0"/>
<circle cx="397.70" cy="300.26" r="2.90" fill="#1f6fd0"/>
<circle cx="417.50" cy="298.60" r="2.90" fill="#1f6fd0"/>
<circle cx="437.30" cy="298.10" r="2.90" fill="#1f6fd0"/>
<circle cx="457.10" cy="297.35" r="2.90" fill="#1f6fd0"/>
<circle cx="476.90" cy="294.03" r="2.90" fill="#1f6fd0"/>
<circle cx="496.70" cy="293.61" r="2.90" fill="#1f6fd0"/>
<circle cx="516.50" cy="293.61" r="2.90" fill="#1f6fd0"/>
<rect x="315.70" y="311.40" width="5.6" height="5.4" fill="#3d88c8"/>
<path d="M318.50,313.80 C321.80,310.19 331.70,296.65 338.30,292.12 C344.90,287.59 351.50,288.70 358.10,286.64 C364.70,284.57 371.30,282.21 377.90,279.74 C384.50,277.28 391.10,274.69 397.70,271.85 C404.30,269.01 410.90,266.01 417.50,262.71 C424.10,259.42 430.70,255.46 437.30,252.08 C443.90,248.70 450.50,245.78 457.10,242.44 C463.70,239.10 470.30,235.88 476.90,232.06 C483.50,228.24 490.10,223.85 496.70,219.51 C503.30,215.18 513.20,208.30 516.50,206.06" fill="none" stroke="#ff2a2a" stroke-width="1.45"/>
<path d="M318.50,313.80 C321.80,312.94 331.70,310.42 338.30,308.65 C344.90,306.88 351.50,304.91 358.10,303.17 C364.70,301.42 371.30,299.71 377.90,298.18 C384.50,296.66 391.10,295.30 397.70,294.03 C404.30,292.76 410.90,291.61 417.50,290.54 C424.10,289.47 430.70,288.53 437.30,287.63 C443.90,286.73 450.50,285.83 457.10,285.14 C463.70,284.45 470.30,283.91 476.90,283.48 C483.50,283.05 490.10,282.87 496.70,282.57 C503.30,282.26 513.20,281.80 516.50,281.65" fill="none" stroke="#ff2a2a" stroke-width="1.45"/>
<path d="M318.50,313.80 C321.80,313.25 331.70,311.72 338.30,310.48 C344.90,309.23 351.50,307.57 358.10,306.32 C364.70,305.08 371.30,303.94 377.90,303.00 C384.50,302.06 391.10,301.39 397.70,300.67 C404.30,299.95 410.90,299.21 417.50,298.68 C424.10,298.15 430.70,297.91 437.30,297.52 C443.90,297.13 450.50,296.76 457.10,296.36 C463.70,295.95 470.30,295.43 476.90,295.11 C483.50,294.79 490.10,294.64 496.70,294.44 C503.30,294.25 513.20,294.03 516.50,293.95" fill="none" stroke="#ff2a2a" stroke-width="1.45"/>
<rect x="134.0" y="369.6" width="262" height="177" rx="1.3" fill="#fff" stroke="#858585" stroke-width="1.8"/>
<line x1="182.50" y1="499.30" x2="379.70" y2="499.30" stroke="#d9d9d9" stroke-width="1"/>
<line x1="182.50" y1="482.36" x2="379.70" y2="482.36" stroke="#d9d9d9" stroke-width="1"/>
<line x1="182.50" y1="465.41" x2="379.70" y2="465.41" stroke="#d9d9d9" stroke-width="1"/>
<line x1="182.50" y1="448.47" x2="379.70" y2="448.47" stroke="#d9d9d9" stroke-width="1"/>
<line x1="182.50" y1="431.53" x2="379.70" y2="431.53" stroke="#d9d9d9" stroke-width="1"/>
<line x1="182.50" y1="414.59" x2="379.70" y2="414.59" stroke="#d9d9d9" stroke-width="1"/>
<line x1="182.50" y1="397.64" x2="379.70" y2="397.64" stroke="#d9d9d9" stroke-width="1"/>
<line x1="182.50" y1="380.70" x2="379.70" y2="380.70" stroke="#d9d9d9" stroke-width="1"/>
<line x1="182.50" y1="380.70" x2="182.50" y2="499.30" stroke="#d9d9d9" stroke-width="1"/>
<line x1="221.94" y1="380.70" x2="221.94" y2="499.30" stroke="#d9d9d9" stroke-width="1"/>
<line x1="261.38" y1="380.70" x2="261.38" y2="499.30" stroke="#d9d9d9" stroke-width="1"/>
<line x1="300.82" y1="380.70" x2="300.82" y2="499.30" stroke="#d9d9d9" stroke-width="1"/>
<line x1="340.26" y1="380.70" x2="340.26" y2="499.30" stroke="#d9d9d9" stroke-width="1"/>
<line x1="379.70" y1="380.70" x2="379.70" y2="499.30" stroke="#d9d9d9" stroke-width="1"/>
<text x="173.40" y="502.70" class="tk" text-anchor="end">0</text>
<text x="173.40" y="485.76" class="tk" text-anchor="end">2</text>
<text x="173.40" y="468.81" class="tk" text-anchor="end">4</text>
<text x="173.40" y="451.87" class="tk" text-anchor="end">6</text>
<text x="173.40" y="434.93" class="tk" text-anchor="end">8</text>
<text x="173.40" y="417.99" class="tk" text-anchor="end">10</text>
<text x="173.40" y="401.04" class="tk" text-anchor="end">12</text>
<text x="173.40" y="384.10" class="tk" text-anchor="end">14</text>
<text x="182.50" y="515.20" class="tk" text-anchor="middle">0</text>
<text x="221.94" y="515.20" class="tk" text-anchor="middle">10</text>
<text x="261.38" y="515.20" class="tk" text-anchor="middle">20</text>
<text x="300.82" y="515.20" class="tk" text-anchor="middle">30</text>
<text x="340.26" y="515.20" class="tk" text-anchor="middle">40</text>
<text x="379.70" y="515.20" class="tk" text-anchor="middle">50</text>
<text x="210.50" y="531.00" class="ttl" textLength="140.5" lengthAdjust="spacingAndGlyphs">Hydraulic retention time (day)</text>
<text transform="translate(158.20,492.90) rotate(-90)" class="ttl" textLength="104.3" lengthAdjust="spacingAndGlyphs">Methane yield (ml/g<tspan class="sub" dy="-0.5">VS</tspan><tspan dy="0.5">)</tspan></text>
<text x="145.90" y="386.90" class="let">E</text>
<line x1="187.60" y1="388.00" x2="214.60" y2="388.00" stroke="#1f6fd0" stroke-width="1.7" stroke-linecap="round" stroke-dasharray="0.1 3.2"/>
<circle cx="201.40" cy="388.00" r="2.70" fill="#1f6fd0"/>
<text x="217.00" y="390.80" class="lg">PAD</text>
<line x1="187.60" y1="398.40" x2="214.60" y2="398.40" stroke="#9e9e9e" stroke-width="1.7" stroke-linecap="round" stroke-dasharray="0.1 3.2"/>
<path d="M201.40,395.52 L203.90,400.40 L198.90,400.40 Z" fill="#9e9e9e"/>
<text x="217.00" y="401.20" class="lg">MAD</text>
<line x1="187.60" y1="408.80" x2="214.60" y2="408.80" stroke="#3fa3e0" stroke-width="1.7" stroke-linecap="round" stroke-dasharray="0.1 3.2"/>
<path d="M198.99,406.81 L203.81,410.80 M198.99,410.80 L203.81,406.81 M201.40,406.81 L201.40,410.80" stroke="#3fa3e0" stroke-width="1.15" fill="none" stroke-linecap="round"/>
<text x="217.00" y="411.60" class="lg">TAD</text>
<line x1="187.60" y1="419.20" x2="214.60" y2="419.20" stroke="#ff2a2a" stroke-width="1.4"/>
<text x="217.00" y="422.00" class="lg" textLength="87.4" lengthAdjust="spacingAndGlyphs">Logistic function model</text>
<path d="M182.50,499.30 C185.79,495.45 195.65,481.68 202.22,476.17 C208.79,470.67 215.37,470.51 221.94,466.26 C228.51,462.01 235.09,453.53 241.66,450.67 C248.23,447.82 254.81,449.56 261.38,449.15 C267.95,448.74 274.53,448.61 281.10,448.22 C287.67,447.82 294.25,447.16 300.82,446.78 C307.39,446.40 313.97,452.89 320.54,445.93 C327.11,438.97 333.69,413.19 340.26,405.01 C346.83,396.84 353.41,399.24 359.98,396.88 C366.55,394.52 376.41,391.87 379.70,390.87" fill="none" stroke="#9e9e9e" stroke-width="1.7" stroke-linecap="round" stroke-dasharray="0.1 3.2"/>
<path d="M182.50,495.62 L185.70,501.86 L179.30,501.86 Z" fill="#9e9e9e"/>
<path d="M202.22,472.49 L205.42,478.73 L199.02,478.73 Z" fill="#9e9e9e"/>
<path d="M221.94,462.58 L225.14,468.82 L218.74,468.82 Z" fill="#9e9e9e"/>
<path d="M241.66,446.99 L244.86,453.23 L238.46,453.23 Z" fill="#9e9e9e"/>
<path d="M261.38,445.47 L264.58,451.71 L258.18,451.71 Z" fill="#9e9e9e"/>
<path d="M281.10,444.54 L284.30,450.78 L277.90,450.78 Z" fill="#9e9e9e"/>
<path d="M300.82,443.10 L304.02,449.34 L297.62,449.34 Z" fill="#9e9e9e"/>
<path d="M320.54,442.25 L323.74,448.49 L317.34,448.49 Z" fill="#9e9e9e"/>
<path d="M340.26,401.33 L343.46,407.57 L337.06,407.57 Z" fill="#9e9e9e"/>
<path d="M359.98,393.20 L363.18,399.44 L356.78,399.44 Z" fill="#9e9e9e"/>
<path d="M379.70,387.19 L382.90,393.43 L376.50,393.43 Z" fill="#9e9e9e"/>
<path d="M182.50,499.30 C185.79,498.45 195.65,496.58 202.22,494.22 C208.79,491.86 215.37,487.76 221.94,485.15 C228.51,482.54 235.09,479.94 241.66,478.55 C248.23,477.15 254.81,477.15 261.38,476.77 C267.95,476.38 274.53,476.44 281.10,476.26 C287.67,476.07 294.25,475.83 300.82,475.66 C307.39,475.50 313.97,476.89 320.54,475.24 C327.11,473.59 333.69,467.42 340.26,465.75 C346.83,464.09 353.41,465.33 359.98,465.24 C366.55,465.16 376.41,465.24 379.70,465.24" fill="none" stroke="#3fa3e0" stroke-width="1.7" stroke-linecap="round" stroke-dasharray="0.1 3.2"/>
<path d="M179.85,497.12 L185.15,501.49 M179.85,501.49 L185.15,497.12 M182.50,497.12 L182.50,501.49" stroke="#3fa3e0" stroke-width="1.15" fill="none" stroke-linecap="round"/>
<path d="M199.57,492.03 L204.87,496.40 M199.57,496.40 L204.87,492.03 M202.22,492.03 L202.22,496.40" stroke="#3fa3e0" stroke-width="1.15" fill="none" stroke-linecap="round"/>
<path d="M219.29,482.97 L224.59,487.34 M219.29,487.34 L224.59,482.97 M221.94,482.97 L221.94,487.34" stroke="#3fa3e0" stroke-width="1.15" fill="none" stroke-linecap="round"/>
<path d="M239.01,476.36 L244.31,480.73 M239.01,480.73 L244.31,476.36 M241.66,476.36 L241.66,480.73" stroke="#3fa3e0" stroke-width="1.15" fill="none" stroke-linecap="round"/>
<path d="M258.74,474.58 L264.02,478.95 M258.74,478.95 L264.02,474.58 M261.38,474.58 L261.38,478.95" stroke="#3fa3e0" stroke-width="1.15" fill="none" stroke-linecap="round"/>
<path d="M278.46,474.07 L283.75,478.44 M278.46,478.44 L283.75,474.07 M281.10,474.07 L281.10,478.44" stroke="#3fa3e0" stroke-width="1.15" fill="none" stroke-linecap="round"/>
<path d="M298.18,473.48 L303.46,477.85 M298.18,477.85 L303.46,473.48 M300.82,473.48 L300.82,477.85" stroke="#3fa3e0" stroke-width="1.15" fill="none" stroke-linecap="round"/>
<path d="M317.89,473.06 L323.18,477.43 M317.89,477.43 L323.18,473.06 M320.54,473.06 L320.54,477.43" stroke="#3fa3e0" stroke-width="1.15" fill="none" stroke-linecap="round"/>
<path d="M337.62,463.57 L342.90,467.94 M337.62,467.94 L342.90,463.57 M340.26,463.57 L340.26,467.94" stroke="#3fa3e0" stroke-width="1.15" fill="none" stroke-linecap="round"/>
<path d="M357.34,463.06 L362.62,467.43 M357.34,467.43 L362.62,463.06 M359.98,463.06 L359.98,467.43" stroke="#3fa3e0" stroke-width="1.15" fill="none" stroke-linecap="round"/>
<path d="M377.06,463.06 L382.34,467.43 M377.06,467.43 L382.34,463.06 M379.70,463.06 L379.70,467.43" stroke="#3fa3e0" stroke-width="1.15" fill="none" stroke-linecap="round"/>
<path d="M182.50,499.30 C185.79,498.68 195.65,497.06 202.22,495.57 C208.79,494.09 215.37,491.93 221.94,490.41 C228.51,488.88 235.09,487.24 241.66,486.42 C248.23,485.60 254.81,485.93 261.38,485.49 C267.95,485.05 274.53,484.16 281.10,483.80 C287.67,483.43 294.25,483.50 300.82,483.29 C307.39,483.08 313.97,483.22 320.54,482.53 C327.11,481.83 333.69,479.77 340.26,479.14 C346.83,478.50 353.41,478.79 359.98,478.71 C366.55,478.64 376.41,478.71 379.70,478.71" fill="none" stroke="#1f6fd0" stroke-width="1.7" stroke-linecap="round" stroke-dasharray="0.1 3.2"/>
<circle cx="182.50" cy="499.30" r="2.90" fill="#1f6fd0"/>
<circle cx="202.22" cy="495.57" r="2.90" fill="#1f6fd0"/>
<circle cx="221.94" cy="490.41" r="2.90" fill="#1f6fd0"/>
<circle cx="241.66" cy="486.42" r="2.90" fill="#1f6fd0"/>
<circle cx="261.38" cy="485.49" r="2.90" fill="#1f6fd0"/>
<circle cx="281.10" cy="483.80" r="2.90" fill="#1f6fd0"/>
<circle cx="300.82" cy="483.29" r="2.90" fill="#1f6fd0"/>
<circle cx="320.54" cy="482.53" r="2.90" fill="#1f6fd0"/>
<circle cx="340.26" cy="479.14" r="2.90" fill="#1f6fd0"/>
<circle cx="359.98" cy="478.71" r="2.90" fill="#1f6fd0"/>
<circle cx="379.70" cy="478.71" r="2.90" fill="#1f6fd0"/>
<rect x="179.70" y="496.90" width="5.6" height="5.4" fill="#3d88c8"/>
<path d="M182.50,499.30 C185.79,495.60 195.65,481.83 202.22,477.10 C208.79,472.37 215.37,472.87 221.94,470.92 C228.51,468.97 235.09,467.46 241.66,465.41 C248.23,463.37 254.81,461.25 261.38,458.64 C267.95,456.03 274.53,453.13 281.10,449.74 C287.67,446.35 294.25,442.12 300.82,438.31 C307.39,434.49 313.97,430.86 320.54,426.87 C327.11,422.87 333.69,418.64 340.26,414.33 C346.83,410.03 353.41,405.34 359.98,401.03 C366.55,396.73 376.41,390.58 379.70,388.49" fill="none" stroke="#ff2a2a" stroke-width="1.45"/>
<path d="M182.50,499.30 C185.79,498.24 195.65,494.78 202.22,492.95 C208.79,491.11 215.37,489.91 221.94,488.29 C228.51,486.66 235.09,484.79 241.66,483.20 C248.23,481.62 254.81,480.18 261.38,478.80 C267.95,477.42 274.53,476.07 281.10,474.90 C287.67,473.73 294.25,472.62 300.82,471.77 C307.39,470.92 313.97,470.43 320.54,469.82 C327.11,469.21 333.69,468.48 340.26,468.13 C346.83,467.77 353.41,467.81 359.98,467.70 C366.55,467.59 376.41,467.49 379.70,467.45" fill="none" stroke="#ff2a2a" stroke-width="1.45"/>
<path d="M182.50,499.30 C185.79,498.66 195.65,496.83 202.22,495.49 C208.79,494.15 215.37,492.61 221.94,491.25 C228.51,489.90 235.09,488.40 241.66,487.36 C248.23,486.31 254.81,485.70 261.38,484.98 C267.95,484.26 274.53,483.54 281.10,483.03 C287.67,482.53 294.25,482.24 300.82,481.93 C307.39,481.62 313.97,481.37 320.54,481.17 C327.11,480.97 333.69,480.90 340.26,480.75 C346.83,480.59 353.41,480.32 359.98,480.24 C366.55,480.15 376.41,480.24 379.70,480.24" fill="none" stroke="#ff2a2a" stroke-width="1.45"/>
</svg></body></html>
